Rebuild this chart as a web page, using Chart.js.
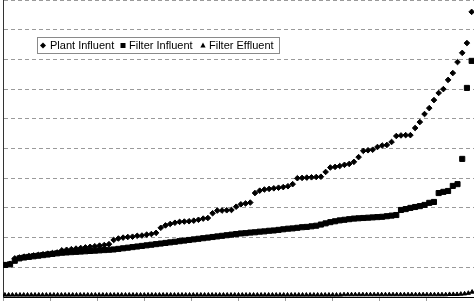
<!DOCTYPE html>
<html>
<head>
<meta charset="utf-8">
<script src="https://cdn.jsdelivr.net/npm/chart.js"></script>
<style>
  body { margin: 0; background: #fff; }
  #wrap { width: 474px; height: 301px; }
</style>
</head>
<body>
<div id="wrap"><canvas id="js--chart--1" width="474" height="301"></canvas></div>
<script>
const seriesNames = ["Plant Influent", "Filter Influent", "Filter Effluent"];

// sorted sample values, lowest to highest
const plantInfluent = [
    1.08, 1.12, 1.30, 1.33, 1.36, 1.38, 1.40, 1.42, 1.44, 1.46,
    1.48, 1.50, 1.57, 1.59, 1.61, 1.63, 1.65, 1.67, 1.69, 1.71,
    1.73, 1.75, 1.78, 1.92, 1.97, 2.00, 2.02, 2.03, 2.06, 2.07,
    2.10, 2.12, 2.16, 2.33, 2.41, 2.46, 2.50, 2.53, 2.54, 2.55,
    2.57, 2.60, 2.64, 2.66, 2.82, 2.91, 2.91, 2.92, 2.93, 3.04,
    3.12, 3.15, 3.18, 3.50, 3.58, 3.62, 3.64, 3.66, 3.68, 3.70,
    3.73, 3.80, 4.00, 4.01, 4.02, 4.03, 4.04, 4.05, 4.21, 4.36,
    4.38, 4.41, 4.45, 4.48, 4.55, 4.71, 4.92, 4.94, 4.96, 5.05,
    5.10, 5.12, 5.22, 5.42, 5.44, 5.45, 5.45, 5.69, 5.89, 6.16,
    6.36, 6.63, 6.87, 7.00, 7.31, 7.54, 7.91, 8.22, 8.55, 9.60
];

const filterInfluent = [
    1.08, 1.10, 1.22, 1.30, 1.33, 1.35, 1.37, 1.39, 1.41, 1.43,
    1.45, 1.47, 1.49, 1.50, 1.51, 1.52, 1.53, 1.54, 1.55, 1.56,
    1.57, 1.58, 1.59, 1.60, 1.62, 1.64, 1.66, 1.68, 1.70, 1.72,
    1.74, 1.76, 1.78, 1.80, 1.82, 1.84, 1.86, 1.88, 1.90, 1.92,
    1.94, 1.96, 1.98, 2.00, 2.02, 2.04, 2.06, 2.08, 2.10, 2.12,
    2.14, 2.15, 2.17, 2.18, 2.20, 2.21, 2.23, 2.24, 2.26, 2.28,
    2.30, 2.31, 2.33, 2.35, 2.36, 2.38, 2.40, 2.44, 2.48, 2.52,
    2.55, 2.58, 2.60, 2.62, 2.64, 2.65, 2.66, 2.67, 2.68, 2.69,
    2.70, 2.72, 2.74, 2.76, 2.93, 2.96, 3.00, 3.03, 3.06, 3.10,
    3.17, 3.20, 3.50, 3.54, 3.57, 3.74, 3.80, 4.65, 7.04, 7.95
];

const filterEffluent = [
    0.07, 0.07, 0.07, 0.07, 0.07, 0.07, 0.07, 0.07, 0.07, 0.07,
    0.07, 0.07, 0.07, 0.07, 0.07, 0.07, 0.07, 0.07, 0.07, 0.07,
    0.07, 0.07, 0.07, 0.07, 0.07, 0.07, 0.07, 0.07, 0.07, 0.07,
    0.07, 0.07, 0.07, 0.07, 0.07, 0.07, 0.07, 0.07, 0.07, 0.07,
    0.07, 0.07, 0.07, 0.07, 0.07, 0.07, 0.07, 0.07, 0.07, 0.07,
    0.07, 0.07, 0.07, 0.07, 0.07, 0.07, 0.07, 0.07, 0.07, 0.07,
    0.07, 0.07, 0.07, 0.07, 0.07, 0.07, 0.07, 0.07, 0.07, 0.07,
    0.07, 0.07, 0.07, 0.07, 0.07, 0.07, 0.07, 0.07, 0.07, 0.07,
    0.07, 0.07, 0.07, 0.07, 0.07, 0.07, 0.07, 0.07, 0.07, 0.07,
    0.08, 0.08, 0.08, 0.08, 0.08, 0.08, 0.08, 0.08, 0.08, 0.08,
    0.08, 0.08, 0.08, 0.08, 0.08, 0.08, 0.08, 0.08, 0.08, 0.08,
    0.08, 0.08, 0.08, 0.08, 0.08, 0.08, 0.08, 0.08, 0.09, 0.09,
    0.09, 0.10, 0.11, 0.13, 0.17
];

// x = plotting position (percent of samples) of each sorted value
function rankPoints(values) {
    return values.map((v, i) => ({ x: 100 * (i + 0.5) / values.length, y: v }));
}

const data = {
    datasets: [
        {
            label: seriesNames[0],
            data: rankPoints(plantInfluent),
            pointStyle: 'rectRot',
            pointRadius: 2.8,
            backgroundColor: '#000',
            borderColor: '#000',
            borderWidth: 1,
        },
        {
            label: seriesNames[1],
            data: rankPoints(filterInfluent),
            pointStyle: 'rect',
            pointRadius: 3.6,
            backgroundColor: '#000',
            borderColor: '#000',
            borderWidth: 1,
        },
        {
            label: seriesNames[2],
            data: rankPoints(filterEffluent),
            pointStyle: 'triangle',
            pointRadius: 2.4,
            backgroundColor: '#000',
            borderColor: '#000',
            borderWidth: 1,
        }
    ]
};

// boxed legend sitting inside the plot
const boxLegend = {
    id: 'boxLegend',
    afterDraw(chart) {
        const ctx = chart.ctx;
        const marks = [[43, 50], [123, 129], [203, 209]];
        const cy = 45.5;
        ctx.save();
        ctx.fillStyle = '#fff';
        ctx.fillRect(37, 37, 242, 16);
        ctx.strokeStyle = '#8a8a8a';
        ctx.lineWidth = 1;
        ctx.strokeRect(37.5, 37.5, 242, 16);
        ctx.fillStyle = '#000';
        ctx.font = '11px "Liberation Sans", Arial, sans-serif';
        ctx.textBaseline = 'middle';
        chart.data.datasets.forEach((ds, i) => {
            const mx = marks[i][0];
            ctx.beginPath();
            if (ds.pointStyle === 'rectRot') {
                ctx.moveTo(mx, cy - 3); ctx.lineTo(mx + 3, cy); ctx.lineTo(mx, cy + 3); ctx.lineTo(mx - 3, cy);
            } else if (ds.pointStyle === 'rect') {
                ctx.rect(mx - 2.5, cy - 2.5, 5, 5);
            } else {
                ctx.moveTo(mx, cy - 3); ctx.lineTo(mx + 2.6, cy + 2); ctx.lineTo(mx - 2.6, cy + 2);
            }
            ctx.closePath();
            ctx.fill();
            ctx.fillText(ds.label, marks[i][1], cy + 0.5);
        });
        ctx.restore();
    }
};

const config = {
    type: 'scatter',
    data: data,
    options: {
        responsive: false,
        animation: false,
        layout: { autoPadding: false, padding: { left: 3, top: 0, right: 0, bottom: 0 } },
        plugins: {
            legend: { display: false },
            tooltip: { enabled: false }
        },
        scales: {
            x: {
                type: 'linear',
                min: 0,
                max: 100,
                ticks: { display: false, stepSize: 10 },
                grid: { drawOnChartArea: false, drawTicks: true, tickLength: 4, color: '#9a9a9a' },
                border: { display: true, color: '#000', width: 1 }
            },
            y: {
                min: 0,
                max: 10,
                ticks: { display: false, stepSize: 1 },
                grid: { drawTicks: false, color: '#9a9a9a', lineWidth: 1 },
                border: { display: true, color: '#333', width: 1, dash: [4, 3] }
            }
        }
    },
    plugins: [boxLegend]
};

new Chart(document.getElementById("js--chart--1"), config);
</script>
</body>
</html>
